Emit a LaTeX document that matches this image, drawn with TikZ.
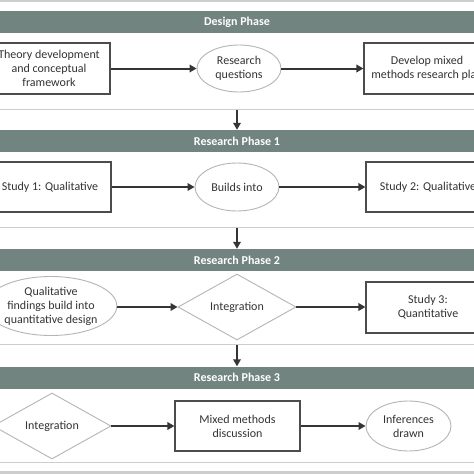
\documentclass[tikz,border=0pt]{standalone}
\usepackage{fontspec}
\setmainfont{Carlito}
\usetikzlibrary{shapes.geometric,arrows.meta}
\definecolor{barc}{HTML}{728480}
\definecolor{sepc}{HTML}{CDCDCD}
\definecolor{boxc}{HTML}{4C4C4C}
\definecolor{shc}{HTML}{B5B5B5}
\definecolor{txtc}{HTML}{333333}
\definecolor{arrc}{HTML}{353535}
\begin{document}
\begin{tikzpicture}[x=1pt,y=-1pt,
  every node/.style={font=\fontsize{12}{14}\selectfont, text=txtc, align=center, inner sep=0pt},
  header/.style={fill=barc, minimum width=480pt, minimum height=22pt, text=white,
    font=\fontsize{12}{14}\selectfont\bfseries},
  rbox/.style={rectangle, draw=boxc, line width=1.1pt, fill=white},
  oval/.style={ellipse, draw=shc, line width=0.9pt, fill=white},
  dia/.style={diamond, draw=shc, line width=0.9pt, fill=white},
  flow/.style={draw=arrc, line width=2pt, -{Triangle[length=7pt,width=7.5pt]}},
  sepline/.style={draw=sepc, line width=1.6pt}
]
\useasboundingbox (0,0) rectangle (474,474);
\fill[white] (0,0) rectangle (474,474);
% top and bottom border bands
\fill[sepc] (0,0) rectangle (474,2.2);
\fill[sepc] (0,471) rectangle (474,474);

% header bars
\node[header] (h0) at (237,22) {Design Phase};
\node[header] (h1) at (237,141) {Research Phase 1};
\node[header] (h2) at (237,260) {Research Phase 2};
\node[header] (h3) at (237,377.5) {Research Phase 3};

% separator lines
\coordinate (s1l) at (0,109.5);   \coordinate (s1r) at (474,109.5);  \coordinate (s1m) at (237,109.5);
\coordinate (s2l) at (0,227.5);   \coordinate (s2r) at (474,227.5);  \coordinate (s2m) at (237,227.5);
\coordinate (s3l) at (0,344.5);   \coordinate (s3r) at (474,344.5);  \coordinate (s3m) at (237,344.5);
\coordinate (s4l) at (0,462.5);   \coordinate (s4r) at (474,462.5);
\draw[sepline] (s1l) -- (s1r);
\draw[sepline] (s2l) -- (s2r);
\draw[sepline] (s3l) -- (s3r);
\draw[sepline] (s4l) -- (s4r);

% row 1
\node[rbox, minimum width=122pt, minimum height=51pt] (theory) at (49,68.5)
  {Theory development\\and conceptual\\framework};
\node[oval, minimum width=84pt, minimum height=47pt] (rq) at (239,68.5) {Research\\questions};
\node[rbox, minimum width=126pt, minimum height=51pt] (plan) at (427,68.5)
  {Develop mixed\\methods research plan};

% row 2
\node[rbox, minimum width=122pt, minimum height=50pt] (st1) at (50,187) {Study 1: Qualitative};
\node[oval, minimum width=84pt, minimum height=48pt] (builds) at (237,187) {Builds into};
\node[rbox, minimum width=124pt, minimum height=50pt] (st2) at (428,187) {Study 2: Qualitative};

% row 3
\node[oval, minimum width=118pt, minimum height=59pt] (qf) at (51,306)
  {Qualitative\\findings build into\\quantitative design};
\node[dia, minimum width=118pt, minimum height=66pt] (int1) at (237,307) {Integration};
\node[rbox, minimum width=124pt, minimum height=51pt] (st3) at (428,307.5) {Study 3:\\Quantitative};

% row 4
\node[dia, minimum width=118pt, minimum height=66pt] (int2) at (52,426) {Integration};
\node[rbox, minimum width=125pt, minimum height=50pt] (mm) at (237.5,426) {Mixed methods\\discussion};
\node[oval, minimum width=85pt, minimum height=50pt] (inf) at (408.5,426) {Inferences\\drawn};

% horizontal flows
\draw[flow] (theory.east) -- (rq.west);
\draw[flow] (rq.east) -- (plan.west);
\draw[flow] (st1.east) -- (builds.west);
\draw[flow] (builds.east) -- (st2.west);
\draw[flow] (qf.east |- int1.west) -- (int1.west);
\draw[flow] (int1.east) -- (st3.west |- int1.east);
\draw[flow] (int2.east) -- (mm.west);
\draw[flow] (mm.east) -- (inf.west);

% vertical flows
\draw[flow] (s1m) -- (h1.north);
\draw[flow] (s2m) -- (h2.north);
\draw[flow] (s3m) -- (h3.north);
\end{tikzpicture}
\end{document}
